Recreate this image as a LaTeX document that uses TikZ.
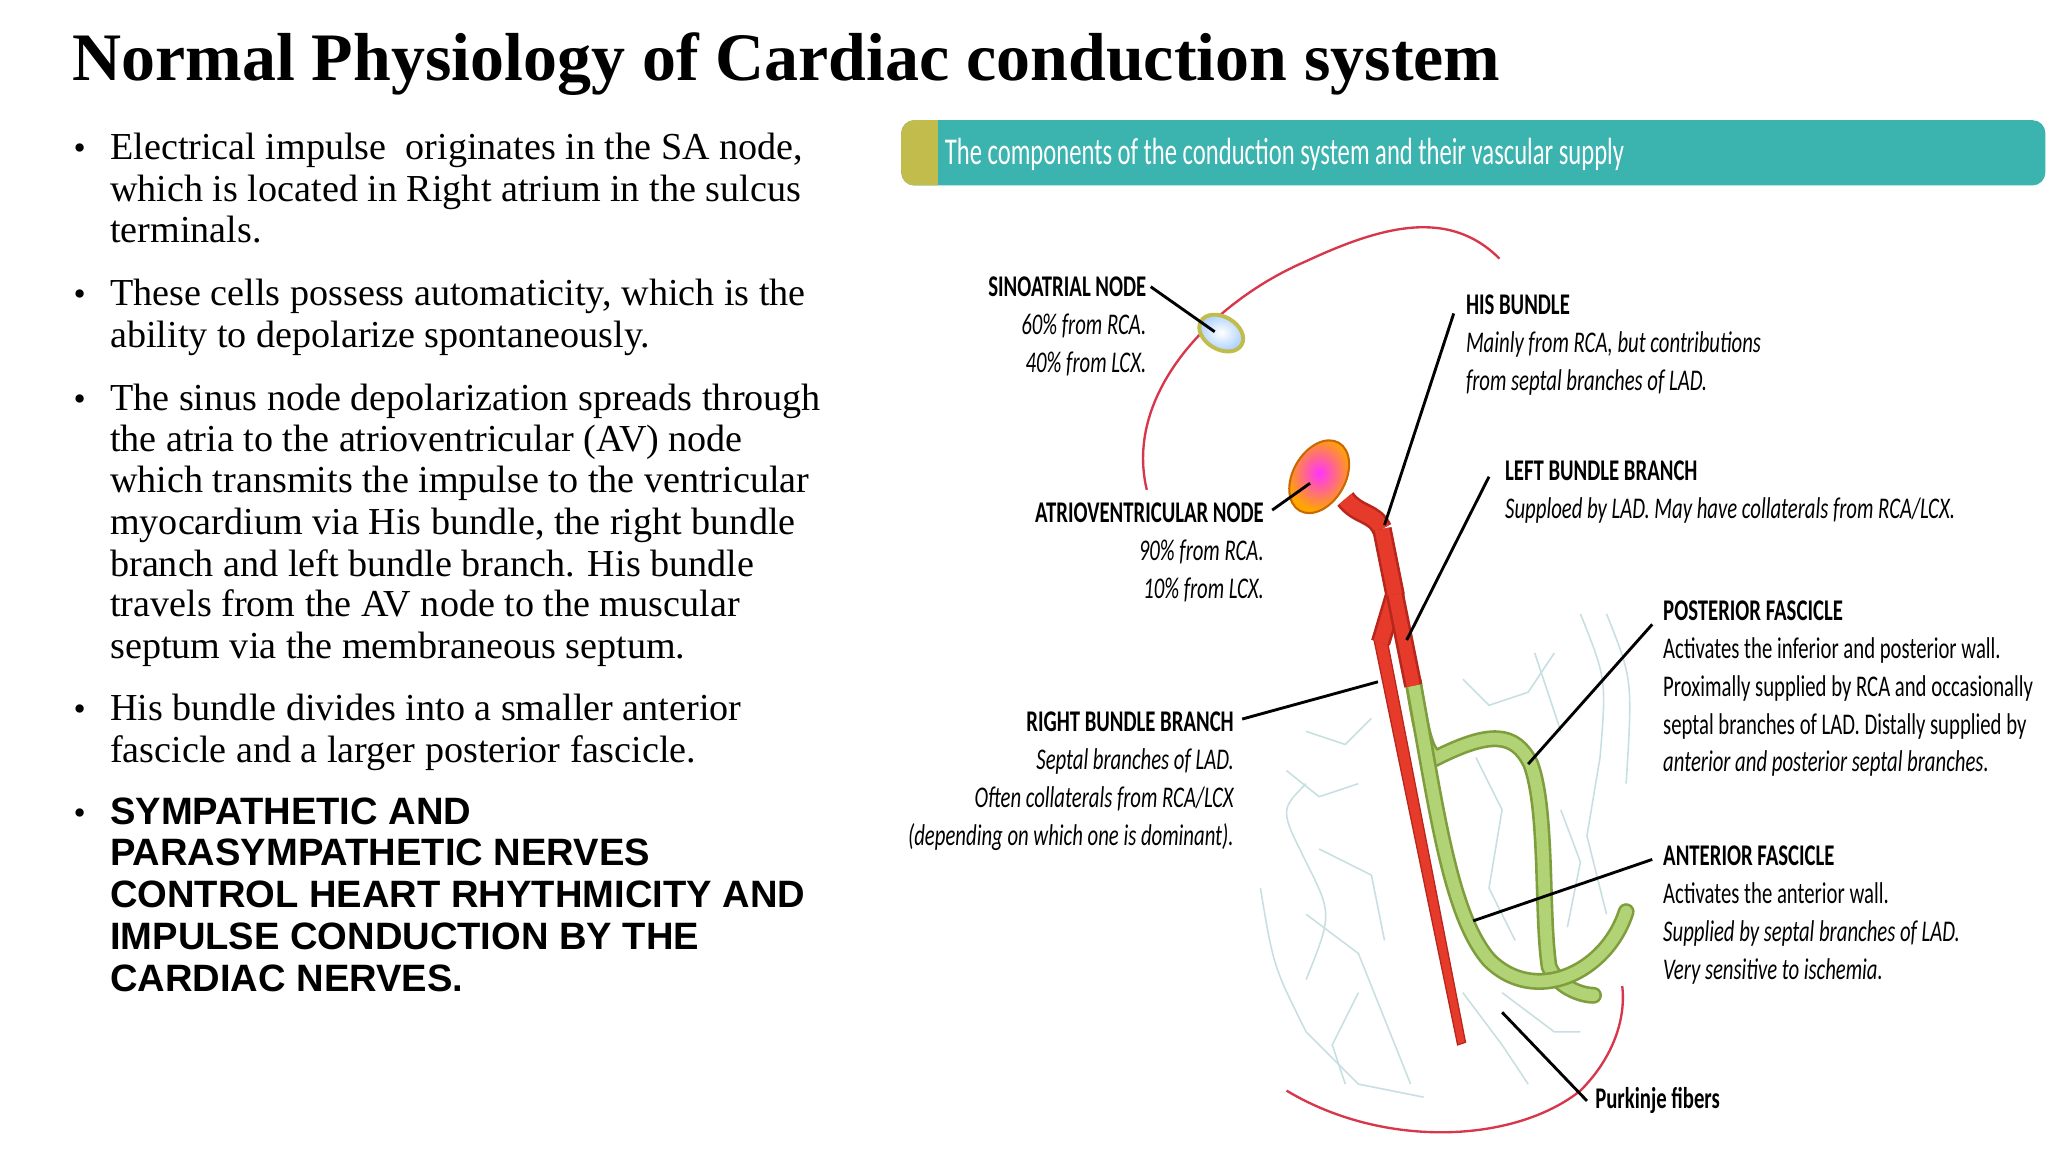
\documentclass[tikz,border=0pt]{standalone}
\usepackage{fontspec}
\usetikzlibrary{shapes.geometric}
\setmainfont{Liberation Serif}
\newfontfamily\arialf{Liberation Sans}
\newfontfamily\cond[FakeStretch=0.69]{Carlito}
\newfontfamily\bcond[FakeStretch=0.65]{Carlito}
\definecolor{teal1}{HTML}{3BB3AE}
\definecolor{olive1}{HTML}{C2BC4C}
\definecolor{hred}{HTML}{E63B2B}
\definecolor{hredd}{HTML}{B8261C}
\definecolor{hgreen}{HTML}{B2D276}
\definecolor{hgreend}{HTML}{7E9E3E}
\definecolor{pale}{HTML}{C8DFE2}
\definecolor{arc}{HTML}{D8364A}
\begin{document}
\begin{tikzpicture}[x=0.5pt,y=-0.5pt,
  body/.style={anchor=base west,inner sep=0pt,font=\fontsize{14.6}{16}\selectfont},
  bul/.style={anchor=base west,inner sep=0pt,font=\fontsize{13.3}{16}\selectfont},
  capb/.style={anchor=base west,inner sep=0pt,font=\arialf\bfseries\fontsize{14.6}{16}\selectfont},
  lab/.style={inner sep=0pt,font=\cond\fontsize{11.5}{14}\selectfont},
  leader/.style={line width=1.1pt,black},
  purk/.style={pale,line width=0.6pt}]
\useasboundingbox (0,0) rectangle (1568,882);
\fill[white] (0,0) rectangle (1568,882);
% title
\node[anchor=base west,inner sep=0pt,font=\bfseries\fontsize{26}{30}\selectfont] (title) at (55,62) {Normal Physiology of Cardiac conduction system};
% left bullets
\node[bul] (b1) at (56,122) {•};
\node[body] (l1) at (84,122) {Electrical impulse\ \ originates in the SA node,};
\node[body] (l2) at (84,154) {which is located in Right atrium in the sulcus};
\node[body] (l3) at (84,186) {terminals.};
\node[bul] (b2) at (56,234) {•};
\node[body] (l4) at (84,234) {These cells possess automaticity, which is the};
\node[body] (l5) at (84,266) {ability to depolarize spontaneously.};
\node[bul] (b3) at (56,314) {•};
\node[body] (l6) at (84,314) {The sinus node depolarization spreads through};
\node[body] (l7) at (84,346) {the atria to the atrioventricular (AV) node};
\node[body] (l8) at (84,377) {which transmits the impulse to the ventricular};
\node[body] (l9) at (84,409) {myocardium via His bundle, the right bundle};
\node[body] (l10) at (84,441) {branch and left bundle branch. His bundle};
\node[body] (l11) at (84,472) {travels from the AV node to the muscular};
\node[body] (l12) at (84,504) {septum via the membraneous septum.};
\node[bul] (b4) at (56,552) {•};
\node[body] (l13) at (84,552) {His bundle divides into a smaller anterior};
\node[body] (l14) at (84,584) {fascicle and a larger posterior fascicle.};
\node[bul] (b5) at (56,631) {•};
\node[capb] (c1) at (84,631) {SYMPATHETIC AND};
\node[capb] (c2) at (84,663) {PARASYMPATHETIC NERVES};
\node[capb] (c3) at (84,695) {CONTROL HEART RHYTHMICITY AND};
\node[capb] (c4) at (84,727) {IMPULSE CONDUCTION BY THE};
\node[capb] (c5) at (84,759) {CARDIAC NERVES.};
% banner
\fill[teal1,rounded corners=5pt] (690,92) rectangle (1566,142);
\begin{scope}
\clip (690,92) rectangle (718,142);
\fill[olive1,rounded corners=5pt] (690,92) rectangle (740,142);
\end{scope}
\node[anchor=west,inner sep=0pt,text=white,font=\bcond\fontsize{14.5}{16}\selectfont] (ban) at (723,118) {The components of the conduction system and their vascular supply};
% outer heart arcs
\draw[arc,line width=0.9pt] (878,375) .. controls (860,300) and (930,230) .. (1000,200) .. controls (1060,172) and (1110,160) .. (1148,198);
\draw[arc,line width=0.9pt] (985,835) .. controls (1060,880) and (1160,875) .. (1210,835) .. controls (1235,810) and (1245,780) .. (1242,755);
% purkinje
\draw[purk] (1000,600) .. controls (980,620) .. (1000,660) .. controls (1020,700) .. (1000,750);
\draw[purk] (985,590) -- (1010,610) -- (1040,600);
\draw[purk] (965,680) .. controls (975,740) .. (1000,790) -- (1040,830) -- (1090,840);
\draw[purk] (1010,650) -- (1050,670) -- (1060,720);
\draw[purk] (1000,700) -- (1040,730) -- (1060,780) -- (1080,830);
\draw[purk] (1040,760) -- (1020,800) -- (1030,830);
\draw[purk] (1000,560) -- (1030,570) -- (1050,550);
\draw[purk] (1120,520) -- (1140,540) -- (1170,530) -- (1190,500);
\draw[purk] (1210,470) .. controls (1230,520) .. (1225,580) -- (1215,640) -- (1230,700);
\draw[purk] (1230,470) .. controls (1250,520) .. (1245,600);
\draw[purk] (1130,580) -- (1150,620) -- (1140,680) -- (1160,720);
\draw[purk] (1195,620) -- (1210,660) -- (1200,710);
\draw[purk] (1120,760) -- (1150,800) -- (1170,830);
\draw[purk] (1150,760) -- (1190,790) -- (1210,790);
\draw[purk] (1175,500) -- (1195,560);
% nodes
\node[draw=olive1,line width=1.5pt,ellipse,minimum width=36pt,minimum height=25pt,rotate=-30,inner color=white,outer color=cyan!45!blue!35,inner sep=0pt,scale=0.5] (sa) at (935,255) {};
\node[draw=orange!80!black,line width=0.8pt,ellipse,minimum width=40pt,minimum height=60pt,rotate=-30,inner color=magenta!80,outer color=orange!70!yellow,inner sep=0pt,scale=0.5] (av) at (1010,365) {};
% green fascicles
\draw[hgreend,line width=6.5pt,line cap=round] (1082,522) .. controls (1088,560) and (1092,578) .. (1100,580) .. controls (1140,560) and (1160,560) .. (1172,585) .. controls (1185,620) and (1180,700) .. (1186,740) .. controls (1192,755) and (1210,762) .. (1220,762);
\draw[hgreen,line width=4.5pt,line cap=round] (1082,522) .. controls (1088,560) and (1092,578) .. (1100,580) .. controls (1140,560) and (1160,560) .. (1172,585) .. controls (1185,620) and (1180,700) .. (1186,740) .. controls (1192,755) and (1210,762) .. (1220,762);
\draw[hgreend,line width=6.5pt,line cap=round] (1082,522) .. controls (1100,620) and (1110,700) .. (1140,735) .. controls (1175,770) and (1230,745) .. (1245,698);
\draw[hgreen,line width=4.5pt,line cap=round] (1082,522) .. controls (1100,620) and (1110,700) .. (1140,735) .. controls (1175,770) and (1230,745) .. (1245,698);
% red his / bundles
\draw[hredd,line width=8pt] (1030,382) .. controls (1040,395) and (1052,392) .. (1058,405);
\draw[hred,line width=6pt] (1030,382) .. controls (1040,395) and (1052,392) .. (1058,405);
\fill[hred,draw=hredd,line width=0.5pt] (1052,490) -- (1116,800) -- (1122,798) -- (1062,490) -- cycle;
\draw[hredd,line width=7.5pt,line join=round] (1058,405) -- (1068,455) -- (1057,492);
\draw[hred,line width=5.5pt,line join=round] (1058,405) -- (1068,455) -- (1057,492);
\draw[hredd,line width=7pt] (1068,455) -- (1082,525);
\draw[hred,line width=5pt] (1068,455) -- (1082,525);
% label texts
\node[lab,anchor=base east] (sat) at (878,227) {\bfseries SINOATRIAL NODE};
\node[lab,anchor=base east] (sa1) at (878,256) {\itshape 60\% from RCA.};
\node[lab,anchor=base east] (sa2) at (878,285) {\itshape 40\% from LCX.};
\node[lab,anchor=base west] (hist) at (1122,241) {\bfseries HIS BUNDLE};
\node[lab,anchor=base west] (his1) at (1122,270) {\itshape Mainly from RCA, but contributions};
\node[lab,anchor=base west] (his2) at (1122,299) {\itshape from septal branches of LAD.};
\node[lab,anchor=base east] (avt) at (968,400) {\bfseries ATRIOVENTRICULAR NODE};
\node[lab,anchor=base east] (av1) at (968,429) {\itshape 90\% from RCA.};
\node[lab,anchor=base east] (av2) at (968,458) {\itshape 10\% from LCX.};
\node[lab,anchor=base west] (lbt) at (1152,368) {\bfseries LEFT BUNDLE BRANCH};
\node[lab,anchor=base west] (lb1) at (1152,397) {\itshape Supploed by LAD. May have collaterals from RCA/LCX.};
\node[lab,anchor=base west] (pft) at (1273,475) {\bfseries POSTERIOR FASCICLE};
\node[lab,anchor=base west] (pf1) at (1273,504) {Activates the inferior and posterior wall.};
\node[lab,anchor=base west] (pf2) at (1273,533) {Proximally supplied by RCA and occasionally};
\node[lab,anchor=base west] (pf3) at (1273,562) {septal branches of LAD. Distally supplied by};
\node[lab,anchor=base west] (pf4) at (1273,591) {\itshape anterior and posterior septal branches.};
\node[lab,anchor=base east] (rbt) at (945,560) {\bfseries RIGHT BUNDLE BRANCH};
\node[lab,anchor=base east] (rb1) at (945,589) {\itshape Septal branches of LAD.};
\node[lab,anchor=base east] (rb2) at (945,618) {\itshape Often collaterals from RCA/LCX};
\node[lab,anchor=base east] (rb3) at (945,647) {\itshape (depending on which one is dominant).};
\node[lab,anchor=base west] (aft) at (1273,663) {\bfseries ANTERIOR FASCICLE};
\node[lab,anchor=base west] (af1) at (1273,692) {Activates the anterior wall.};
\node[lab,anchor=base west] (af2) at (1273,721) {\itshape Supplied by septal branches of LAD.};
\node[lab,anchor=base west] (af3) at (1273,750) {\itshape Very sensitive to ischemia.};
\node[lab,anchor=base west] (pkt) at (1221,849) {\bfseries Purkinje fibers};
% leaders
\coordinate (sap) at (930,254);
\coordinate (hisp) at (1060,402);
\coordinate (avp) at (1003,370);
\coordinate (lbp) at (1077,490);
\coordinate (rbp) at (1055,522);
\coordinate (pfp) at (1170,585);
\coordinate (afp) at (1128,705);
\coordinate (pkp) at (1150,775);
\draw[leader] (sat.east) ++(3,0) -- (sap);
\draw[leader] (1113,240) -- (hisp);
\draw[leader] (avt.east) ++(6,-2) -- (avp);
\draw[leader] (1140,365) -- (lbp);
\draw[leader] (rbt.east) ++(6,-2) -- (rbp);
\draw[leader] (1265,478) -- (pfp);
\draw[leader] (1265,658) -- (afp);
\draw[leader] (pkt.west) ++(-6,0) -- (pkp);
\end{tikzpicture}
\end{document}
